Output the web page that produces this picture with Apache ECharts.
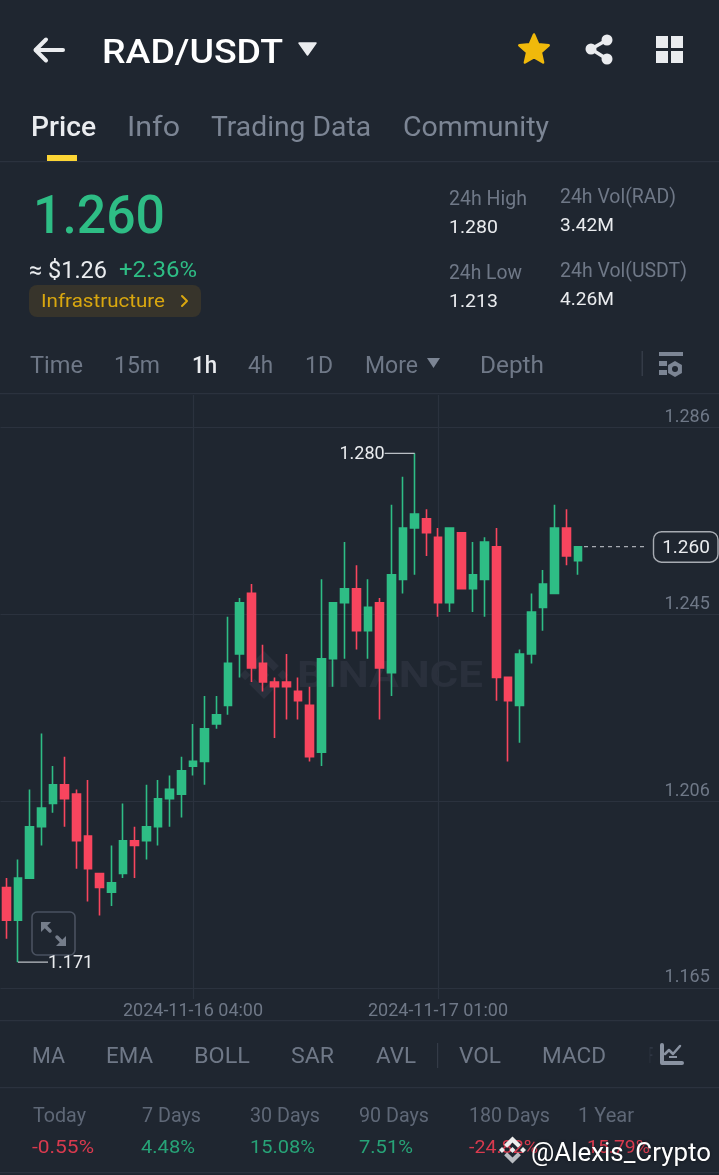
<!DOCTYPE html>
<html><head><meta charset="utf-8">
<style>html,body{margin:0;padding:0;background:#1f2630}#c{width:719px;height:1175px}</style>
<script src="https://cdn.jsdelivr.net/npm/echarts@6/dist/echarts.min.js"></script>
</head><body><div id="c"></div>
<script>
const categories = [
"2024-11-15 12:00","2024-11-15 13:00","2024-11-15 14:00","2024-11-15 15:00","2024-11-15 16:00","2024-11-15 17:00","2024-11-15 18:00","2024-11-15 19:00","2024-11-15 20:00","2024-11-15 21:00","2024-11-15 22:00","2024-11-15 23:00",
"2024-11-16 00:00","2024-11-16 01:00","2024-11-16 02:00","2024-11-16 03:00","2024-11-16 04:00","2024-11-16 05:00","2024-11-16 06:00","2024-11-16 07:00","2024-11-16 08:00","2024-11-16 09:00","2024-11-16 10:00","2024-11-16 11:00",
"2024-11-16 12:00","2024-11-16 13:00","2024-11-16 14:00","2024-11-16 15:00","2024-11-16 16:00","2024-11-16 17:00","2024-11-16 18:00","2024-11-16 19:00","2024-11-16 20:00","2024-11-16 21:00","2024-11-16 22:00","2024-11-16 23:00",
"2024-11-17 00:00","2024-11-17 01:00","2024-11-17 02:00","2024-11-17 03:00","2024-11-17 04:00","2024-11-17 05:00","2024-11-17 06:00","2024-11-17 07:00","2024-11-17 08:00","2024-11-17 09:00","2024-11-17 10:00","2024-11-17 11:00",
"2024-11-17 12:00","2024-11-17 13:00","2024-11-17 14:00","2024-11-17 15:00","2024-11-17 16:00","2024-11-17 17:00","2024-11-17 18:00","2024-11-17 19:00","2024-11-17 20:00","2024-11-17 21:00","2024-11-17 22:00","2024-11-17 23:00",
"2024-11-18 00:00","2024-11-18 01:00"];
const opens = [1.187,1.180,1.189,1.200,1.205,1.209,1.207,1.198,1.190,1.186,1.190,1.197,1.197,1.200,1.206,1.207,1.213,1.214,1.222,1.226,1.237,1.250,1.235,1.231,1.231,1.229,1.226,1.216,1.236,1.248,1.251,1.242,1.248,1.233,1.253,1.264,1.266,1.262,1.248,1.263,1.251,1.253,1.260,1.232,1.226,1.237,1.247,1.250,1.264,1.257];
const closes = [1.180,1.189,1.200,1.204,1.209,1.206,1.197,1.191,1.187,1.188,1.197,1.196,1.200,1.206,1.208,1.212,1.214,1.221,1.224,1.235,1.248,1.234,1.231,1.230,1.230,1.227,1.215,1.236,1.248,1.251,1.242,1.247,1.234,1.254,1.264,1.267,1.263,1.248,1.264,1.251,1.254,1.261,1.232,1.227,1.237,1.246,1.252,1.264,1.258,1.260];
const lows = [1.176,1.171,1.189,1.196,1.203,1.200,1.191,1.184,1.181,1.183,1.189,1.189,1.193,1.196,1.200,1.202,1.211,1.209,1.221,1.224,1.232,1.231,1.229,1.219,1.223,1.223,1.214,1.213,1.230,1.236,1.238,1.236,1.223,1.228,1.250,1.254,1.258,1.245,1.246,1.251,1.246,1.245,1.227,1.214,1.218,1.235,1.242,1.250,1.256,1.254];
const highs = [1.189,1.193,1.208,1.220,1.213,1.215,1.208,1.210,1.190,1.196,1.205,1.200,1.209,1.210,1.211,1.215,1.222,1.228,1.228,1.245,1.249,1.252,1.239,1.232,1.237,1.232,1.230,1.253,1.248,1.261,1.256,1.253,1.249,1.269,1.275,1.280,1.268,1.264,1.264,1.263,1.261,1.262,1.264,1.232,1.238,1.250,1.255,1.269,1.268,1.260];
const gridPrices = [1.1655,1.2055,1.2455,1.2855];
const tickLabels = ["1.165","1.206","1.245","1.286"];
const dateLabels = ["2024-11-16 04:00","2024-11-17 01:00"];
const extremes = [[35,1.280,"1.280",-1],[1,1.171,"1.171",1]];
const lastPrice = [[49,1.260,"1.260"]];

const BG='#1f2630', GRID='#2b323e', UP='#2ebd85', DOWN='#f8455e', GREY='#6f7887', GREY2='#7c8594', WHITE='#eaecef';
const FONT='Roboto, sans-serif';
const uiTexts = [
 ["RAD/USDT",102,283,51,34,'#ffffff',500],
 ["Price",31,96,126,28,WHITE,500],["Info",127,180,126,28,GREY2,400],["Trading Data",211,371,126,28,GREY2,400],["Community",403,549,126,28,GREY2,400],
 ["1.260",33,165,215,54,UP,500],
 ["≈ $1.26",29,107,270,24,WHITE,400],["+2.36%",119,197,270,22,UP,400],
 ["Infrastructure",41,165,301,19,'#d9a70f',400],
 ["24h High",449,527,198,19.5,GREY,400],["1.280",449,498,227,19,WHITE,400],
 ["24h Vol(RAD)",560,676,196,19.5,GREY,400],["3.42M",560,614,225,19,WHITE,400],
 ["24h Low",449,522,272,19.5,GREY,400],["1.213",449,498,301,19,WHITE,400],
 ["24h Vol(USDT)",560,687,270,19.5,GREY,400],["4.26M",560,614,299,19,WHITE,400],
 ["Time",30,83,365,23,GREY,400],["15m",114,160,365,23,GREY,400],["1h",192,217,365,23,WHITE,500],["4h",248,273,365,23,GREY,400],["1D",305,333,365,23,GREY,400],["More",365,418,365,23,GREY,400],["Depth",480,544,365,23,GREY,400],
 ["MA",32,65,1056,22,GREY,400],["EMA",106,153,1056,22,GREY,400],["BOLL",194,250,1056,22,GREY,400],["SAR",291,334,1056,22,GREY,400],["AVL",376,416,1056,22,GREY,400],["VOL",459,501,1056,22,GREY,400],["MACD",542,606,1056,22,GREY,400],["F",649,653,1056,22,'#2f3643',400],
 ["Today",33,86,1115,19.5,'#5f6877',400],["7 Days",142,201,1115,19.5,'#5f6877',400],["30 Days",250,320,1115,19.5,'#5f6877',400],["90 Days",359,429,1115,19.5,'#5f6877',400],["180 Days",469,550,1115,19.5,'#5f6877',400],["1 Year",578,634,1115,19.5,'#5f6877',400],
 ["-0.55%",32,94,1147,19,'#d93a4e',400],["4.48%",141,195,1147,19,'#27a377',400],["15.08%",250,315,1147,19,'#27a377',400],["7.51%",359,413,1147,19,'#27a377',400],["-24.82%",469,538,1147,19,'#d93a4e',400],["15.79%",587,650,1147,19,'#d93a4e',400]
];

const mctx=document.createElement('canvas').getContext('2d');
function txt(t,x0,x1,y,size,fill,w,z,extra){
  const font=w+' '+size+'px '+FONT; mctx.font=font;
  return {type:'text',x:x0,y:y+0.09*size,scaleX:(x1-x0)/mctx.measureText(t).width,z:z||3,silent:true,
    style:Object.assign({text:t,x:0,y:0,fill:fill,font:font,align:'left',verticalAlign:'middle'},extra||{})};
}
function rect(x,y,w,h,fill,r,z){return {type:'rect',shape:{x,y,width:w,height:h,r:r||0},style:{fill},z:z||1,silent:true};}
function poly(points,fill,z,extra){return {type:'polygon',shape:{points},style:Object.assign({fill},extra||{}),z:z||3,silent:true};}
function pline(points,stroke,lw,z){return {type:'polyline',shape:{points},style:{stroke,lineWidth:lw,fill:null,lineCap:'round',lineJoin:'round'},z:z||3,silent:true};}
function logo(cx,cy,h,fill,z,fill2){
  const P=(a,f)=>poly(a.map(p=>[cx+p[0]*h,cy+p[1]*h]),f,z);
  return [P([[0,-.22],[.22,0],[0,.22],[-.22,0]],fill),P([[-.78,-.22],[-.56,0],[-.78,.22],[-1,0]],fill),P([[.78,-.22],[1,0],[.78,.22],[.56,0]],fill),
    P([[0,-1],[.62,-.38],[.4,-.16],[0,-.56],[-.4,-.16],[-.62,-.38]],fill),P([[0,1],[.62,.38],[.4,.16],[0,.56],[-.4,.16],[-.62,.38]],fill2||fill)];
}
function star(cx,cy,R,r){const a=[];for(let i=0;i<10;i++){const q=-Math.PI/2+i*Math.PI/5,v=i%2?r:R;a.push([cx+v*Math.cos(q),cy+v*Math.sin(q)]);}return a;}
function hex(cx,cy,R){const a=[];for(let i=0;i<6;i++){const q=-Math.PI/2+i*Math.PI/3;a.push([cx+R*Math.cos(q),cy+R*Math.sin(q)]);}return a;}

const graphics=[
 rect(0,161,719,1.2,GRID),rect(0,393,719,1.2,GRID),rect(0,1020,719,1.2,GRID),rect(0,1087,719,1.2,GRID),rect(0,1172,719,1.2,GRID),
 rect(47,155,30,6,'#fcd535'),
 rect(29,285,172,32,'#37342b',8),
 rect(641.5,351,1.5,25,'#343b47'),rect(437,1043,1.2,25,'#343b47'),
 pline([[36,50],[63,50]],WHITE,4),pline([[46,39.5],[35.5,50],[46,60.5]],WHITE,4),
 poly([[299,43],[316,43],[307.5,55]],WHITE,3,{stroke:WHITE,lineWidth:1.5,lineJoin:'round'}),
 poly(star(534,50,15.5,7.2),'#f0b90b',3,{stroke:'#f0b90b',lineWidth:2.5,lineJoin:'round'}),
 pline([[607,40],[591,49],[607,59]],WHITE,3.5),
 {type:'circle',shape:{cx:607,cy:40,r:5.5},style:{fill:WHITE},z:3,silent:true},{type:'circle',shape:{cx:591,cy:49,r:5.5},style:{fill:WHITE},z:3,silent:true},{type:'circle',shape:{cx:607,cy:59,r:5.5},style:{fill:WHITE},z:3,silent:true},
 rect(656,36,12,12,WHITE),rect(671,36,12,12,WHITE),rect(656,51,12,12,WHITE),rect(671,51,12,12,WHITE),
 pline([[182,296],[187,301],[182,306]],'#d9a70f',2),
 poly([[427,358],[440,358],[433.5,368]],GREY2),
 rect(659,352,24,4,GREY2),rect(659,361,8,5,GREY2),rect(659,370,8,5,GREY2),
 poly(hex(675,369,8),GREY2),{type:'circle',shape:{cx:675,cy:369,r:3},style:{fill:BG},z:4,silent:true},
 pline([[662,1045],[662,1063],[682,1063]],'#8a93a2',4),pline([[665,1054],[669,1050],[673,1054],[680,1046]],'#8a93a2',2.5),rect(669,1056,8,2,'#8a93a2'),
 ...logo(264,675,24,'#2a303c',1),
 txt("BINANCE",297,483,675,36,'#2a303c',700,1),
 {type:'rect',shape:{x:32,y:912,width:43,height:43,r:5},style:{fill:'rgba(31,38,48,0.6)',stroke:'#4a5260',lineWidth:1.6},z:1,silent:true},
 poly([[41,922],[51,922],[41,932]],'#757d8a',6),poly([[66,946],[56,946],[66,936]],'#757d8a',6),pline([[45,926],[50,931]],'#757d8a',3.5,6),pline([[62,942],[57,937]],'#757d8a',3.5,6),
 ...logo(512.5,1150,13.5,'#eeeeee',9,'#b9bcc1'),
 txt("@Alexis_Crypto",531,711,1152,25,'#ffffff',400,10,{textShadowColor:'rgba(0,0,0,0.55)',textShadowBlur:3})
];
uiTexts.forEach(t=>graphics.push(txt(t[0],t[1],t[2],t[3],t[4],t[5],t[6])));

const chart=echarts.init(document.getElementById('c'),null,{width:719,height:1175});
const candleData=opens.map((o,i)=>[o,closes[i],lows[i],highs[i]]);
const xSet=new Set(dateLabels);
chart.setOption({
  animation:false,
  backgroundColor:BG,
  grid:{left:0.5,top:395,width:723.33,height:604,containLabel:false,outerBoundsMode:'none'},
  xAxis:{type:'category',data:categories,boundaryGap:true,
    axisLine:{show:false},axisTick:{show:false,alignWithLabel:true},
    splitLine:{show:true,alignWithLabel:true,interval:(i,v)=>xSet.has(v),lineStyle:{color:GRID,width:1.2}},
    axisLabel:{interval:(i,v)=>xSet.has(v),hideOverlap:false,margin:3,color:GREY,fontSize:18,fontFamily:FONT,verticalAlign:'top'}},
  yAxis:{type:'value',position:'right',min:1.1631,max:1.2925,scale:true,
    axisLine:{show:false},axisTick:{show:false,customValues:gridPrices},
    splitLine:{show:true,lineStyle:{color:GRID,width:1.2}},
    axisLabel:{inside:true,customValues:gridPrices,margin:14,color:GREY,fontSize:18,fontFamily:FONT,align:'right',verticalAlign:'bottom',padding:[0,0,1,0],
      formatter:v=>{let b=0;gridPrices.forEach((p,i)=>{if(Math.abs(p-v)<Math.abs(gridPrices[b]-v))b=i;});return tickLabels[b];}}},
  graphic:{elements:graphics},
  series:[
    {type:'candlestick',data:candleData,barWidth:8.4,z:3,
      itemStyle:{color:UP,color0:DOWN,borderColor:UP,borderColor0:DOWN,borderColorDoji:UP,borderWidth:1.6}},
    {type:'custom',data:extremes.map(e=>[e[0],e[1]]),coordinateSystem:'cartesian2d',z:4,silent:true,clip:false,
      renderItem:(params,api)=>{
        const e=extremes[params.dataIndex],p=api.coord([api.value(0),api.value(1)]),d=e[3];
        return {type:'group',children:[
          {type:'line',shape:{x1:p[0],y1:p[1],x2:p[0]+d*30,y2:p[1]},style:{stroke:'#c4c8ce',lineWidth:1.2}},
          {type:'text',x:p[0]+d*30,y:p[1]+1,style:{text:e[2],fill:WHITE,font:'400 18px '+FONT,align:d<0?'right':'left',verticalAlign:'middle'}}
        ]};
      }},
    {type:'custom',data:lastPrice.map(e=>[e[0],e[1]]),coordinateSystem:'cartesian2d',z:4,silent:true,clip:false,
      renderItem:(params,api)=>{
        const p=api.coord([api.value(0),api.value(1)]);
        return {type:'group',children:[
          {type:'line',shape:{x1:p[0]+6,y1:p[1],x2:645,y2:p[1]},style:{stroke:'#a7abb2',lineWidth:1.2,lineDash:[4,4]}},
          {type:'rect',shape:{x:653.5,y:p[1]-15,width:64.5,height:30.5,r:8},style:{fill:BG,stroke:'#a7abb2',lineWidth:1.4}},
          {type:'text',x:686,y:p[1]+2,style:{text:lastPrice[params.dataIndex][2],fill:WHITE,font:'400 19px '+FONT,align:'center',verticalAlign:'middle'}}
        ]};
      }}
  ]
});
</script></body></html>
